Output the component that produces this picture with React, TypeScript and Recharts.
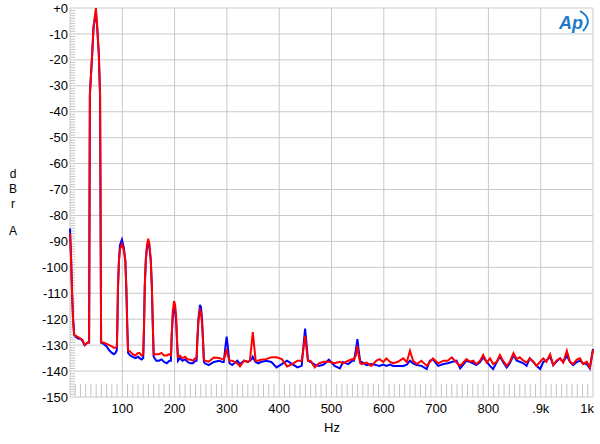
import { CartesianGrid, Line, LineChart, ReferenceLine, XAxis, YAxis } from "recharts";

// FFT spectrum, dBrA vs Hz
const freqs = [
  0, 2, 4, 6, 8, 12, 16, 20, 24, 28, 31, 34, 36.5, 38, 42.5, 45, 49.5, 52, 55, 57.5, 59.5,
  64, 70, 75, 80, 84, 87, 89.5, 90.5, 91.7, 93.6, 95.5, 99.3, 103, 105.8, 107.7, 109.6,
  111, 115, 120, 125, 130, 133, 137, 140, 141.5, 143, 145, 147, 149.5, 152, 154.5, 156.5, 158.5,
  160, 165, 170, 175, 180, 185, 190, 193, 194.5, 196.5, 199, 201, 203, 205, 206.5,
  210, 215, 220, 225, 230, 235, 240, 242, 243.5, 245.5, 248.5, 250.5, 252.5, 254.5, 256,
  258, 265, 275, 285, 291, 294, 297, 299.5, 302, 305, 310, 320, 325, 333, 340, 344, 347, 349.5, 352, 355,
  360, 365, 375, 385, 395, 405, 415, 425, 435, 443, 446, 449.5, 452.5, 455,
  460, 468, 476, 485, 495, 506, 516, 522, 532, 540, 543, 546.5, 549.5, 552, 555,
  558, 567, 576, 586, 592, 599, 605, 612, 618, 627, 637, 644, 650, 656, 663, 672, 682, 688, 694,
  704, 714, 722, 730, 739, 746, 752, 758, 765, 771, 777, 784, 790, 797, 803, 809, 816, 822, 828,
  835, 841, 848, 854, 860, 867, 873, 879, 886, 892, 899, 905, 911, 918, 924, 930, 937, 943, 950,
  956, 962, 969, 975, 981, 988, 994, 1000,
];

const blueDb = [
  -85, -96, -110, -120, -126, -127, -127.5, -127.5, -128.5, -130, -129.5, -129, -129, -33.5, -17.5, -7.5, -1.5, -7.5, -17.5, -33.5, -129,
  -129.5, -130.5, -132, -133, -133.5, -133, -132, -123, -108, -97.5, -91.5, -89.3, -92.5, -97.5, -108, -123.5,
  -133, -134, -134.5, -135, -134.5, -135, -135.5, -135, -123, -107, -97, -93, -91, -92.5, -97.5, -107.5, -123.5,
  -134.5, -136, -136, -135.5, -136.5, -137, -136, -136, -126, -119, -115.5, -116.5, -121, -130, -136,
  -135, -136, -135.5, -136.5, -137, -137, -136, -136, -128, -120, -114.5, -115.5, -120, -129, -136.5,
  -137, -137.7, -136.5, -136, -136.5, -136.5, -131, -126.7, -131, -137, -137.7, -136, -137.3, -136, -136.5, -136, -135.5, -134.5, -135.5, -136.5,
  -137, -136.5, -136, -136.5, -138.6, -137.3, -136, -137.3, -138.6, -138, -131, -123.6, -130, -136,
  -136.5, -137.5, -138, -137.5, -135.6, -138, -139, -136.5, -137.3, -136, -136, -132, -127.7, -132, -136.5,
  -136.5, -137.7, -137.3, -137.7, -138, -137.5, -138, -137.5, -138, -138, -138, -137.5, -136, -137, -137.7, -138, -139.2, -136, -135.5,
  -138, -137.3, -137, -136.5, -136, -139, -137.5, -136, -136.5, -137, -137.7, -136.5, -134.7, -136.5, -138, -139.2, -136.5, -134.4, -136.5,
  -138.6, -137, -133.8, -136, -136.4, -137, -138, -135.1, -136.5, -138, -139.2, -136.4, -136, -134.4, -137.7, -136.4, -135.1, -136.5, -134.1,
  -136.5, -137.7, -136.5, -136, -137, -137.3, -139, -131.5,
];

const redDb = [
  -87, -97, -110, -121, -126, -126.5, -127, -127.5, -128, -130, -129.5, -129, -129, -33.5, -17.3, -7.3, 0, -7.3, -17.3, -33.5, -129,
  -129, -129.5, -130, -130.5, -131, -131, -130.5, -123, -108, -97.5, -93, -91, -93.5, -97.5, -108, -123.5,
  -132, -132.5, -133.5, -134, -133, -133, -134, -133.5, -123, -107, -97, -91.5, -89, -91, -97.5, -107.5, -123.5,
  -133.5, -133.5, -133.5, -133, -134, -134, -133.5, -134, -126, -117, -113, -114.5, -119, -130, -134.5,
  -134, -135, -134.5, -135.5, -135.5, -136, -135, -135, -128, -121, -116.5, -117.5, -122, -129, -135.5,
  -136, -136.4, -134.8, -135, -135.4, -135.5, -133.5, -131.5, -134, -136, -136, -137, -138.2, -136, -136.5, -136, -130, -125, -130, -136,
  -136, -135.6, -135.4, -134.7, -134.7, -135.4, -138.2, -137.3, -136, -136, -132, -126.4, -132, -136,
  -136, -138.6, -137, -136.4, -136.4, -137, -136.4, -137, -136, -135.4, -135.5, -134, -130.3, -134, -137,
  -137.3, -136.7, -138, -136, -135.4, -136.5, -135.1, -136.5, -137, -136.4, -135.1, -136.5, -132.2, -136, -137.3, -136, -138, -136.5, -135.1,
  -137, -136, -136, -134.7, -136.7, -138, -136.7, -135.4, -136.4, -136, -137.3, -136, -133.8, -136.7, -135.1, -137.3, -136.4, -133.8, -136,
  -138, -136.4, -133.1, -135.4, -134.7, -136, -136.7, -135.1, -136.4, -138, -136.4, -135.1, -136.4, -133.5, -137.7, -136, -135.1, -136.7, -132.2,
  -136.4, -137.3, -135.6, -135.1, -137.3, -136.4, -138.6, -131.8,
];

const xTicks = [0, 100, 200, 300, 400, 500, 600, 700, 800, 900, 1000];
const xTickLabels = ["", "100", "200", "300", "400", "500", "600", "700", "800", ".9k", "1k"];
const yTicks = [0, -10, -20, -30, -40, -50, -60, -70, -80, -90, -100, -110, -120, -130, -140, -150];

const minorHz = Array.from({ length: 99 }, (_, i) => (i + 1) * 10).filter((v) => v % 100 !== 0);
const minorDb = Array.from({ length: 149 }, (_, i) => -(i + 1)).filter((v) => v % 10 !== 0);

const rows = freqs.map((hz, i) => ({ hz, blue: blueDb[i], red: redDb[i] }));

const FONT = '"Liberation Sans", Arial, sans-serif';
const GRID = "#c9c9c9";
const MINOR = "#c4c4c4";

function HzTick({ x, y, payload }: any) {
  const i = xTicks.indexOf(payload.value);
  const last = payload.value === 1000;
  return (
    <text x={last ? x + 1 : x} y={y} dy={15.5} textAnchor={last ? "end" : "middle"} fill="#000" fontSize={13} fontFamily={FONT}>
      {xTickLabels[i]}
    </text>
  );
}

function Txt({ x, y, size = 13, children }: { x: number; y: number; size?: number; children: string }) {
  return (
    <div
      style={{
        position: "absolute",
        left: x,
        top: y,
        transform: "translate(-50%, -50%)",
        fontFamily: FONT,
        fontSize: size,
        lineHeight: `${size}px`,
        color: "#000",
      }}
    >
      {children}
    </div>
  );
}

export default function App() {
  return (
    <div style={{ position: "absolute", left: 0, top: 0, width: 600, height: 444, background: "#fff" }}>
      <LineChart width={600} height={444} data={rows} margin={{ top: 8, right: 7, bottom: 0, left: 0 }}>
        <CartesianGrid stroke={GRID} strokeWidth={1} />
        <XAxis
          dataKey="hz"
          type="number"
          domain={[0, 1000]}
          ticks={xTicks}
          interval={0}
          height={47}
          tickSize={0}
          tickMargin={0}
          axisLine={false}
          tickLine={false}
          tick={<HzTick />}
        />
        <YAxis
          type="number"
          domain={[-150, 0]}
          ticks={yTicks}
          interval={0}
          width={70}
          tickSize={0}
          tickMargin={2}
          axisLine={false}
          tickLine={false}
          tick={{ fill: "#000", fontSize: 13, fontFamily: FONT }}
          tickFormatter={(v: number) => (v === 0 ? "+0" : `${v}`)}
        />
        {minorDb.map((d) => (
          <ReferenceLine key={`y${d}`} segment={[{ x: 0, y: d }, { x: 10, y: d }]} stroke={MINOR} strokeWidth={1} />
        ))}
        {minorHz.map((h) => (
          <ReferenceLine key={`x${h}`} segment={[{ x: h, y: -150 }, { x: h, y: -145 }]} stroke={MINOR} strokeWidth={1} />
        ))}
        <Line type="linear" dataKey="blue" stroke="#0000ff" strokeWidth={2} dot={false} isAnimationActive={false} />
        <Line type="linear" dataKey="red" stroke="#ff0000" strokeWidth={2} dot={false} isAnimationActive={false} />
      </LineChart>

      <Txt x={13} y={174} size={12}>d</Txt>
      <Txt x={13} y={189} size={12}>B</Txt>
      <Txt x={13} y={204} size={12}>r</Txt>
      <Txt x={13} y={231} size={12}>A</Txt>
      <Txt x={332} y={427}>Hz</Txt>

      <svg style={{ position: "absolute", left: 556, top: 9 }} width={38} height={26}>
        <text x={3} y={20} fontFamily={FONT} fontStyle="italic" fontWeight="bold" fontSize={18} fill="#1f7bc9">
          Ap
        </text>
        <path d="M24 2 Q38 10 27 22" fill="none" stroke="#1f7bc9" strokeWidth={2} />
      </svg>
    </div>
  );
}
